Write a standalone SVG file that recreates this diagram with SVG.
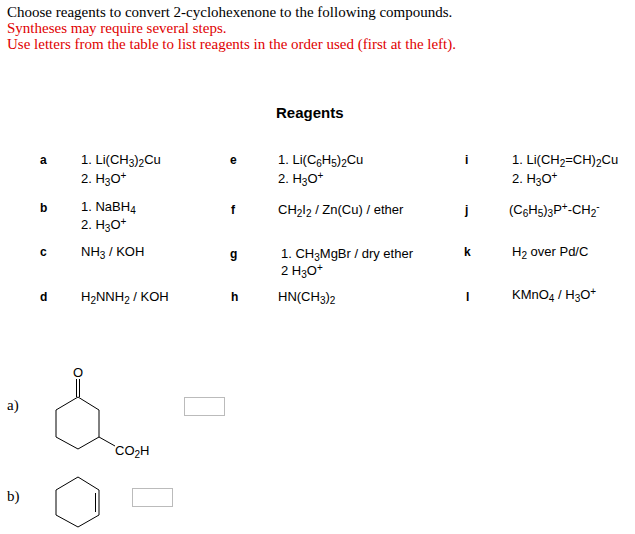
<svg xmlns="http://www.w3.org/2000/svg" width="635" height="534" viewBox="0 0 635 534">
<style>
.h{font-family:"Liberation Serif",serif;font-size:15px}
.r{fill:#e00000}
.t{font-family:"Liberation Sans",Arial,sans-serif;font-size:13px}
.l{font-family:"Liberation Sans",Arial,sans-serif;font-size:12px;font-weight:bold}
.b{fill:none;stroke:#000;stroke-width:1}
.box{fill:#fff;stroke:#bbb;stroke-width:1}
</style>
<rect width="635" height="534" fill="#fff"/>
<g id="header">
<text class="h" x="7" y="17">Choose reagents to convert 2-cyclohexenone to the following compounds.</text>
<text class="h r" x="7" y="33">Syntheses may require several steps.</text>
<text class="h r" x="7" y="49">Use letters from the table to list reagents in the order used (first at the left).</text>
</g>
<g id="table">
<text class="t" x="276" y="118" style="font-size:15px;font-weight:bold">Reagents</text>
<text class="l" x="40" y="164">a</text>
<text class="t" x="81" y="164">1. Li(CH<tspan dy="3" font-size="10">3</tspan><tspan dy="-3">)</tspan><tspan dy="3" font-size="10">2</tspan><tspan dy="-3">Cu</tspan></text>
<text class="t" x="81" y="183">2. H<tspan dy="3" font-size="10">3</tspan><tspan dy="-3">O</tspan><tspan dy="-4" font-size="10">+</tspan></text>
<text class="l" x="40" y="212">b</text>
<text class="t" x="81" y="211">1. NaBH<tspan dy="3" font-size="10">4</tspan></text>
<text class="t" x="81" y="229">2. H<tspan dy="3" font-size="10">3</tspan><tspan dy="-3">O</tspan><tspan dy="-4" font-size="10">+</tspan></text>
<text class="l" x="40" y="256">c</text>
<text class="t" x="81" y="256">NH<tspan dy="3" font-size="10">3</tspan><tspan dy="-3"> / KOH</tspan></text>
<text class="l" x="40" y="301">d</text>
<text class="t" x="81" y="301">H<tspan dy="3" font-size="10">2</tspan><tspan dy="-3">NNH</tspan><tspan dy="3" font-size="10">2</tspan><tspan dy="-3"> / KOH</tspan></text>
<text class="l" x="230" y="164">e</text>
<text class="t" x="278" y="164">1. Li(C<tspan dy="3" font-size="10">6</tspan><tspan dy="-3">H</tspan><tspan dy="3" font-size="10">5</tspan><tspan dy="-3">)</tspan><tspan dy="3" font-size="10">2</tspan><tspan dy="-3">Cu</tspan></text>
<text class="t" x="278" y="183">2. H<tspan dy="3" font-size="10">3</tspan><tspan dy="-3">O</tspan><tspan dy="-4" font-size="10">+</tspan></text>
<text class="l" x="231" y="214">f</text>
<text class="t" x="278" y="214">CH<tspan dy="3" font-size="10">2</tspan><tspan dy="-3">I</tspan><tspan dy="3" font-size="10">2</tspan><tspan dy="-3"> / Zn(Cu) / ether</tspan></text>
<text class="l" x="230" y="258">g</text>
<text class="t" x="281" y="258">1. CH<tspan dy="3" font-size="10">3</tspan><tspan dy="-3">MgBr / dry ether</tspan></text>
<text class="t" x="281" y="275">2 H<tspan dy="3" font-size="10">3</tspan><tspan dy="-3">O</tspan><tspan dy="-4" font-size="10">+</tspan></text>
<text class="l" x="231" y="301">h</text>
<text class="t" x="278" y="301">HN(CH<tspan dy="3" font-size="10">3</tspan><tspan dy="-3">)</tspan><tspan dy="3" font-size="10">2</tspan></text>
<text class="l" x="465" y="164">i</text>
<text class="t" x="512" y="164">1. Li(CH<tspan dy="3" font-size="10">2</tspan><tspan dy="-3">=CH)</tspan><tspan dy="3" font-size="10">2</tspan><tspan dy="-3">Cu</tspan></text>
<text class="t" x="512" y="183">2. H<tspan dy="3" font-size="10">3</tspan><tspan dy="-3">O</tspan><tspan dy="-4" font-size="10">+</tspan></text>
<text class="l" x="465" y="214">j</text>
<text class="t" x="509" y="214">(C<tspan dy="3" font-size="10">6</tspan><tspan dy="-3">H</tspan><tspan dy="3" font-size="10">5</tspan><tspan dy="-3">)</tspan><tspan dy="3" font-size="10">3</tspan><tspan dy="-3">P</tspan><tspan dy="-4" font-size="10">+</tspan><tspan dy="4">-CH</tspan><tspan dy="3" font-size="10">2</tspan><tspan dy="-7" font-size="10">-</tspan></text>
<text class="l" x="464" y="256">k</text>
<text class="t" x="512" y="256">H<tspan dy="3" font-size="10">2</tspan><tspan dy="-3"> over Pd/C</tspan></text>
<text class="l" x="466" y="301">l</text>
<text class="t" x="512" y="299">KMnO<tspan dy="3" font-size="10">4</tspan><tspan dy="-3"> / H</tspan><tspan dy="3" font-size="10">3</tspan><tspan dy="-3">O</tspan><tspan dy="-4" font-size="10">+</tspan></text>
</g>
<g id="problem-a">
<text class="h" x="7" y="410">a)</text>
<polygon class="b" points="78,397 99,410 99,437 78,449 56,437 56,410"/>
<line class="b" x1="76.5" y1="397" x2="76.5" y2="379"/>
<line class="b" x1="79.5" y1="397" x2="79.5" y2="379"/>
<text class="t" x="78" y="377" text-anchor="middle">O</text>
<line class="b" x1="99" y1="437" x2="115" y2="446"/>
<text class="t" x="115" y="455">CO<tspan dy="3" font-size="10">2</tspan><tspan dy="-3">H</tspan></text>
<rect class="box" x="184.5" y="397.5" width="40" height="18"/>
</g>
<g id="problem-b">
<text class="h" x="7" y="501">b)</text>
<polygon class="b" points="78,477 99,490 99,515 78,527 56,515 56,490"/>
<line class="b" x1="95.5" y1="493" x2="95.5" y2="512"/>
<rect class="box" x="132.5" y="488.5" width="40" height="18"/>
</g>
</svg>
